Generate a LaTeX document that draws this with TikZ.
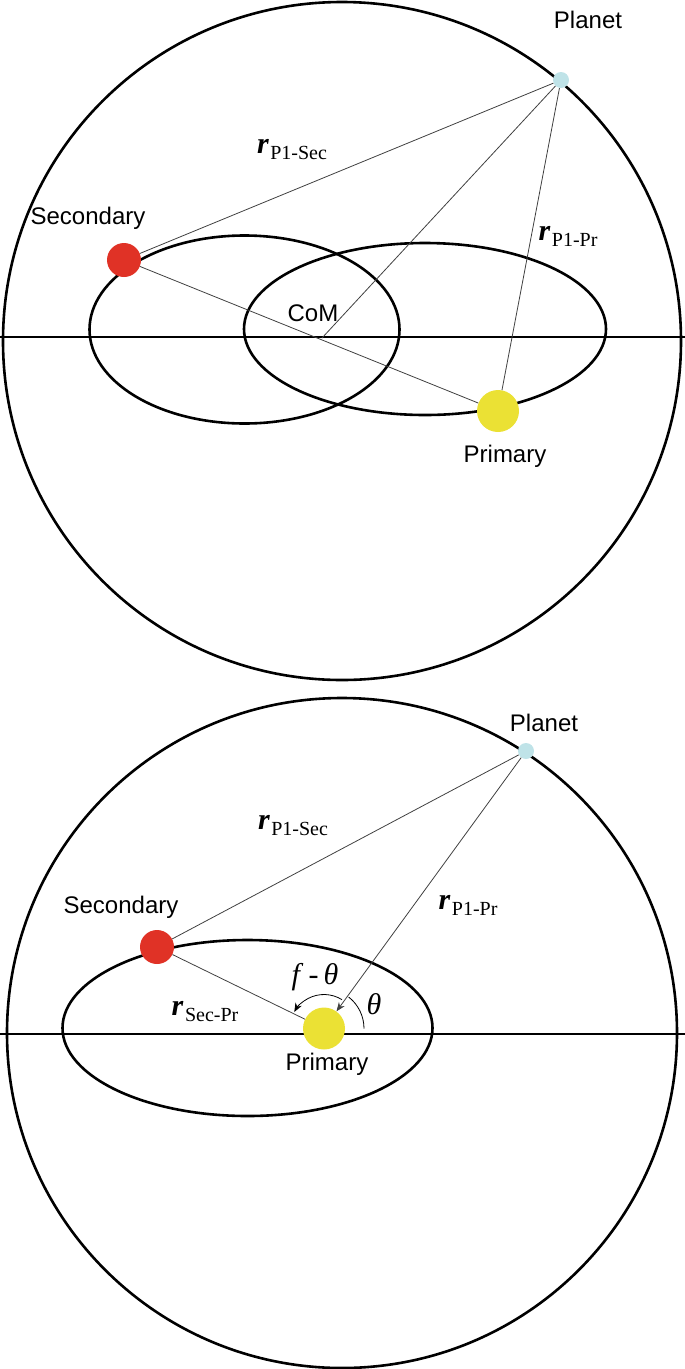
\documentclass[tikz,border=0pt]{standalone}
\usepackage{fontspec}
\setmainfont{Liberation Serif}
\newfontfamily\lbl{Liberation Sans}
\usetikzlibrary{arrows.meta}
\definecolor{secred}{HTML}{E03226}
\definecolor{priyel}{HTML}{EBE134}
\definecolor{plblue}{HTML}{BFE3E8}
\tikzset{
  orbit/.style={line width=2.6pt},
  thin line/.style={line width=0.8pt, draw=black!75},
  axis/.style={line width=1.1pt},
  body/.style={circle, inner sep=0pt, draw=none},
  lab/.style={font=\lbl\fontsize{24}{28}\selectfont, inner sep=0pt},
  rlab/.style={inner sep=0pt},
  tip/.style={-{Stealth[length=9pt,width=7pt]}}
}
\newcommand{\rvec}[1]{{\fontsize{30}{34}\selectfont\bfseries\itshape r}\,{\fontsize{20}{24}\selectfont\raisebox{-6pt}{#1}}}
\begin{document}
\begin{tikzpicture}[x=1pt,y=-1pt]
\useasboundingbox (0,0) rectangle (685,1369);
% ---------- top panel ----------
\draw[orbit] (342,341) circle[radius=339];
\draw[axis] (0,337) -- (685,337);
\draw[orbit] (244.5,329.5) ellipse[x radius=155, y radius=94];
\draw[orbit] (425,329) ellipse[x radius=181, y radius=86];
\coordinate (com) at (322,338);
\node[body, fill=secred, minimum size=34pt] (sec1) at (124,260) {};
\node[body, fill=priyel, minimum size=42pt] (pri1) at (498,411) {};
\node[body, fill=plblue, minimum size=16pt] (pl1) at (561,80) {};
\draw[thin line] (sec1) -- (pl1);
\draw[thin line] (sec1) -- (pri1);
\draw[thin line] (com) -- (pl1);
\draw[thin line] (pri1) -- (pl1);
\node[lab] (tpl) at (588,20) {Planet};
\node[lab] (tsec) at (88,218) {Secondary};
\node[lab] (tcom) at (313,313) {CoM};
\node[lab] (tpri) at (505,456) {Primary};
\node[rlab] (tr1) at (292,150) {\rvec{P1-Sec}};
\node[rlab] (tr2) at (568,236) {\rvec{P1-Pr}};
% ---------- bottom panel ----------
\draw[orbit] (342,1033) circle[radius=335];
\draw[axis] (0,1034) -- (685,1034);
\draw[orbit] (247.5,1028) ellipse[x radius=185, y radius=88];
\node[body, fill=secred, minimum size=34pt] (sec2) at (157,947) {};
\node[body, fill=priyel, minimum size=42pt] (pri2) at (324,1028.5) {};
\node[body, fill=plblue, minimum size=16pt] (pl2) at (526,751) {};
\draw[thin line] (sec2) -- (pl2);
\draw[thin line] (sec2) -- (pri2);
\draw[thin line, tip] (pl2) -- (pri2);
\draw[line width=0.8pt] ([shift={(0:40)}]pri2.center) arc[start angle=0, end angle=-52, radius=40];
\draw[line width=0.8pt, tip] ([shift={(-58:34)}]pri2.center) arc[start angle=-58, end angle=-151, radius=34];
\node[lab] (tpl2) at (544,723) {Planet};
\node[lab] (tsec2) at (121,907) {Secondary};
\node[lab] (tpri2) at (327,1064) {Primary};
\node[rlab] (tr3) at (293,826) {\rvec{P1-Sec}};
\node[rlab] (tr4) at (468,905) {\rvec{P1-Pr}};
\node[rlab] (tr5) at (205,1012) {\rvec{Sec-Pr}};
\node[rlab, font=\fontsize{30}{34}\selectfont] (tf) at (315,977) {\textit{f}\,-\,\textit{θ}};
\node[rlab, font=\fontsize{30}{34}\selectfont] (tth) at (374,1004) {\textit{θ}};
\end{tikzpicture}
\end{document}
